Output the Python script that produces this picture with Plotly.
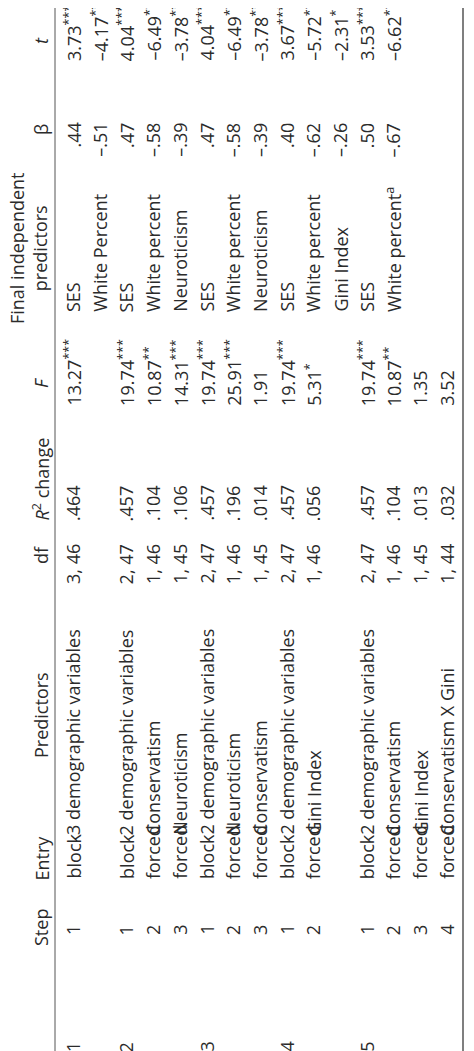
import plotly.graph_objects as go

# table rows (15), top to bottom in the original (left to right in the rotated picture)
equation = ['1', '', '2', '', '', '3', '', '', '4', '', '', '5', '', '', '']
step = ['1', '', '1', '2', '3', '1', '2', '3', '1', '2', '', '1', '2', '3', '4']
entry = ['block', '', 'block', 'forced', 'forced', 'block', 'forced', 'forced', 'block', 'forced', '',
         'block', 'forced', 'forced', 'forced']
predictors = ['3 demographic variables', '', '2 demographic variables', 'Conservatism', 'Neuroticism',
              '2 demographic variables', 'Neuroticism', 'Conservatism', '2 demographic variables', 'Gini Index', '',
              '2 demographic variables', 'Conservatism', 'Gini Index', 'Conservatism X Gini']
df_vals = ['3, 46', '', '2, 47', '1, 46', '1, 45', '2, 47', '1, 46', '1, 45', '2, 47', '1, 46', '',
           '2, 47', '1, 46', '1, 45', '1, 44']
r2_change = ['.464', '', '.457', '.104', '.106', '.457', '.196', '.014', '.457', '.056', '',
             '.457', '.104', '.013', '.032']
f_vals = ['13.27***', '', '19.74***', '10.87**', '14.31***', '19.74***', '25.91***', '1.91', '19.74***', '5.31*', '',
          '19.74***', '10.87**', '1.35', '3.52']
final_pred = ['SES', 'White Percent', 'SES', 'White percent', 'Neuroticism', 'SES', 'White percent', 'Neuroticism',
              'SES', 'White percent', 'Gini Index', 'SES', 'White percent<sup>a</sup>', '', '']
beta = ['.44', '–.51', '.47', '–.58', '–.39', '.47', '–.58', '–.39', '.40', '–.62', '–.26', '.50', '–.67', '', '']
t_vals = ['3.73***', '–4.17***', '4.04***', '–6.49***', '–3.78***', '4.04***', '–6.49***', '–3.78***', '3.67***',
          '–5.72***', '–2.31*', '3.53***', '–6.62***', '', '']

headers = ['Equation', 'Step', 'Entry', 'Predictors', 'df', '<i>R</i><sup>2</sup> change', '<i>F</i>',
           'Final independent<br>predictors', 'β', '<i>t</i>']
footnote = ('<sup>a</sup>I were significant β coefficients for conservatism (4.35) and the conservatism × Gini '
            'interaction variable (–4.10) also occurred because of their high collinearity')


def stars(s):
    if '*' in s:
        i = s.index('*')
        return s[:i] + '<sup>' + s[i:] + '</sup>'
    return s


columns = [equation, step, entry, predictors, df_vals, r2_change, [stars(v) for v in f_vals],
           final_pred, beta, [stars(v) for v in t_vals]]
# (page y position, anchor) of each column in the rotated page
col_pos = [(1046, 'bottom'), (922, 'middle'), (873, 'bottom'), (829, 'bottom'), (578, 'bottom'),
           (515, 'bottom'), (400, 'bottom'), (306, 'bottom'), (113, 'top'), (55, 'bottom')]
head_pos = [(1060, 'bottom'), (920, 'middle'), (875, 'bottom'), (752, 'bottom'), (547, 'middle'),
            (515, 'bottom'), (375, 'middle'), (240, 'middle'), (122, 'middle'), (33, 'middle')]

font = dict(family='Open Sans, sans-serif', size=18, color='#2b2b2b')
ann = []
for h, (y, a) in zip(headers, head_pos):
    ann.append(dict(x=33 if '<br>' not in h else 20, y=y, text=h, textangle=-90, showarrow=False,
                    xanchor='center', yanchor=a, font=font, align='center'))
for col, (y, a) in zip(columns, col_pos):
    for i, v in enumerate(col):
        if v:
            ann.append(dict(x=65 + i * 26.7, y=y, text=v, textangle=-90, showarrow=False,
                            xanchor='center', yanchor=a, font=font))
ann.append(dict(x=462, y=1051, text=footnote, textangle=-90, showarrow=False, xanchor='left',
                yanchor='bottom', font=dict(family='Open Sans, sans-serif', size=17, color='#2b2b2b')))

fig = go.Figure()
fig.update_layout(
    width=474, height=1051, margin=dict(l=0, r=0, t=0, b=0),
    plot_bgcolor='white', paper_bgcolor='white', showlegend=False,
    xaxis=dict(range=[0, 474], visible=False, fixedrange=True),
    yaxis=dict(range=[1051, 0], visible=False, fixedrange=True),
    annotations=ann,
    shapes=[dict(type='line', x0=455, x1=455, y0=0, y1=1051, line=dict(color='#555', width=1.5)),
            dict(type='line', x0=47, x1=47, y0=0, y1=1051, line=dict(color='#555', width=1))],
)
fig.write_html("out.html")
